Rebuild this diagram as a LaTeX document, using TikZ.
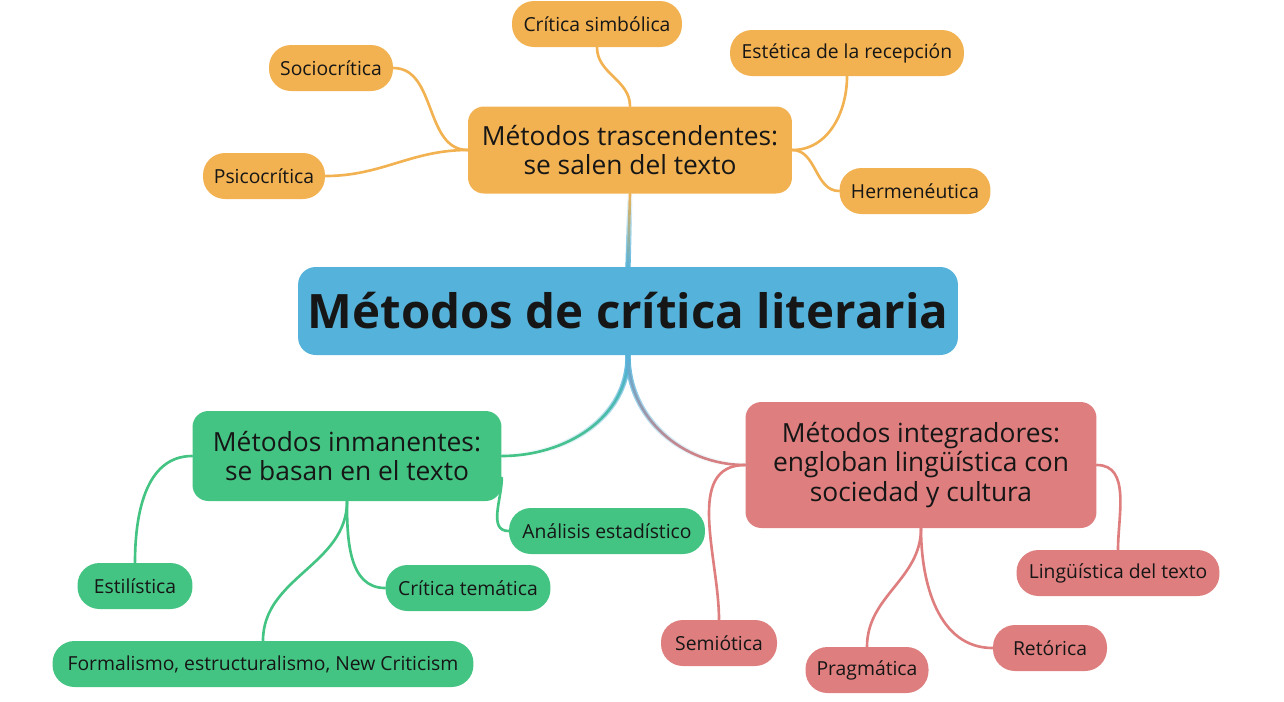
\documentclass[tikz,border=0pt]{standalone}
\usepackage{fontspec}
\setmainfont{Open Sans}
\usetikzlibrary{fadings}

\definecolor{rootblue}{RGB}{85,178,218}
\definecolor{trascolor}{RGB}{242,178,82}
\definecolor{inmcolor}{RGB}{68,196,131}
\definecolor{intcolor}{RGB}{222,126,126}
\definecolor{inkcolor}{RGB}{22,22,22}

\begin{document}
\begin{tikzpicture}
		[x=0.02cm,y=-0.02cm,line cap=round,
		%Styles
		every node/.style={text=inkcolor},
		root node/.style={fill=rootblue,rounded corners=10pt,minimum width=13.2cm,minimum height=1.76cm,font=\bfseries\fontsize{27}{32}\selectfont},
		branch node/.style={fill=#1,rounded corners=9pt,align=center,font=\fontsize{15}{17}\selectfont},
		leaf node/.style={fill=#1,rounded corners=12.5pt,minimum height=0.92cm,font=\fontsize{11}{13}\selectfont},
		link/.style={draw=#1,line width=1.5pt},
		stem/.style={draw=rootblue,line width=3pt,path fading=#1}
		]
		
		\useasboundingbox (0,0) rectangle (1284,701);
		
		%Main nodes
		\node[root node] (root) at (628,311) {Métodos de crítica literaria};
		\node[branch node=trascolor,minimum width=6.48cm,minimum height=1.74cm] (tras) at (630,150) {Métodos trascendentes:\\se salen del texto};
		\node[branch node=inmcolor,minimum width=6.18cm,minimum height=1.8cm] (inm) at (347,456) {Métodos inmanentes:\\se basan en el texto};
		\node[branch node=intcolor,minimum width=7.02cm,minimum height=2.52cm] (integ) at (921,465) {Métodos integradores:\\engloban lingüística con\\sociedad y cultura};
		
		%Leaves
		\node[leaf node=trascolor,minimum width=3.4cm] (simb) at (597,24) {Crítica simbólica};
		\node[leaf node=trascolor,minimum width=2.48cm] (socio) at (331,68) {Sociocrítica};
		\node[leaf node=trascolor,minimum width=2.44cm] (psico) at (264,176) {Psicocrítica};
		\node[leaf node=trascolor,minimum width=4.68cm] (estet) at (847,53) {Estética de la recepción};
		\node[leaf node=trascolor,minimum width=3.02cm] (herm) at (915,191) {Hermenéutica};
		
		\node[leaf node=inmcolor,minimum width=2.3cm] (estil) at (135,586) {Estilística};
		\node[leaf node=inmcolor,minimum width=3.3cm] (tema) at (468,588) {Crítica temática};
		\node[leaf node=inmcolor,minimum width=3.92cm] (anal) at (607,531) {Análisis estadístico};
		\node[leaf node=inmcolor,minimum width=8.42cm] (form) at (263,664) {Formalismo, estructuralismo, New Criticism};
		
		\node[leaf node=intcolor,minimum width=4.06cm] (ling) at (1118,573) {Lingüística del texto};
		\node[leaf node=intcolor,minimum width=2.32cm] (semio) at (719,643) {Semiótica};
		\node[leaf node=intcolor,minimum width=2.46cm] (prag) at (867,670) {Pragmática};
		\node[leaf node=intcolor,minimum width=2.28cm] (ret) at (1050,648) {Retórica};
		
		%Branches from the root
		\draw[link=trascolor] (root.north) -- (tras.south);
		\draw[stem=north] (root.north) -- (tras.south);
		\draw[link=inmcolor] (root.south) to[out=-90,in=0] (inm.east);
		\draw[stem=south] (root.south) to[out=-90,in=0] (inm.east);
		\draw[link=intcolor] (root.south) to[out=-90,in=180] (integ.west);
		\draw[stem=south] (root.south) to[out=-90,in=180] (integ.west);
		
		\path[link=trascolor]
			(tras.west) edge[out=180,in=0] (socio.east)
				edge[out=180,in=0] (psico.east)
			(tras.north) edge[out=90,in=-90] (simb.south)
			(tras.east) edge[out=0,in=-90] (estet.south)
				edge[out=0,in=180] (herm.west);
		\path[link=inmcolor]
			(inm.west) edge[out=180,in=90] (estil.north)
			(inm.south) edge[out=-90,in=180] (tema.west)
				edge[out=-90,in=90] (form.north)
			(inm.-8) edge[out=-90,in=180] (anal.west);
		\path[link=intcolor]
			(integ.west) edge[out=180,in=90] (semio.north)
			(integ.south) edge[out=-90,in=90] (prag.north)
				edge[out=-90,in=180] (ret.west)
			(integ.east) edge[out=0,in=90] (ling.north);
	\end{tikzpicture}
\end{document}
